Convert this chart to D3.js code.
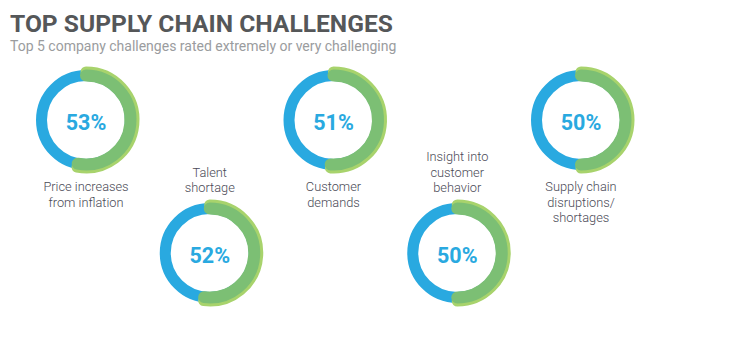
<!DOCTYPE html>
<html lang="en">
<head>
  <meta charset="UTF-8">
  <title>Top Supply Chain Challenges</title>
  <script src="https://d3js.org/d3.v7.min.js"></script>
  <style>
    body {
      margin: 0;
      background: #fff;
      font-family: Roboto, "Noto Sans", sans-serif;
    }
    .title {
      font-size: 24.6px;
      font-weight: 700;
      fill: #555759;
    }
    .subtitle {
      font-size: 14px;
      fill: #9a9c9e;
    }
    .pct {
      font-size: 21.5px;
      font-weight: 700;
      fill: #29a9e0;
    }
    .label {
      font-size: 12.8px;
      font-weight: 300;
      fill: #4a4a56;
    }
  </style>
</head>
<body>
  <svg id="chart" width="738" height="337"></svg>

  <script>
    // values read from the infographic
    const challenges = [
      ["Price increases", "from inflation"],
      ["Talent", "shortage"],
      ["Customer", "demands"],
      ["Insight into", "customer", "behavior"],
      ["Supply chain", "disruptions/", "shortages"]
    ];
    const percents = [53, 52, 51, 50, 50];

    const svg = d3.select("#chart");

    svg.append("text")
      .attr("class", "title")
      .attr("x", 10)
      .attr("y", 32)
      .text("TOP SUPPLY CHAIN CHALLENGES");

    svg.append("text")
      .attr("class", "subtitle")
      .attr("x", 10)
      .attr("y", 51)
      .text("Top 5 company challenges rated extremely or very challenging");

    // layout: donuts alternate between a top and a bottom row
    const x = d3.scalePoint()
      .domain(d3.range(percents.length))
      .range([86, 581]);
    const rowY = d3.scaleOrdinal().domain([0, 1]).range([120, 253]);

    const angle = d3.scaleLinear().domain([0, 100]).range([0, 2 * Math.PI]);

    const r = 44.5, ring = 11;
    const lineH = 15.5;

    // arc drawn as a stroked path so the ends get round caps
    function arcPath(radius, a0, a1) {
      const p = d3.path();
      p.arc(0, 0, radius, a0 - Math.PI / 2, a1 - Math.PI / 2);
      return p.toString();
    }

    const g = svg.selectAll(".donut")
      .data(percents)
      .enter()
      .append("g")
      .attr("class", "donut")
      .attr("transform", (d, i) => `translate(${x(i)},${rowY(i % 2)})`);

    g.append("circle")
      .attr("r", r)
      .attr("fill", "none")
      .attr("stroke", "#29a9e0")
      .attr("stroke-width", ring);

    g.append("path")
      .attr("d", d => arcPath(r + 3.5, 0, angle(d)))
      .attr("fill", "none")
      .attr("stroke", "#a8d36c")
      .attr("stroke-width", ring)
      .attr("stroke-linecap", "round");

    g.append("path")
      .attr("d", d => arcPath(r, 0, angle(d)))
      .attr("fill", "none")
      .attr("stroke", "#7cbf74")
      .attr("stroke-width", ring + 1)
      .attr("stroke-linecap", "round");

    g.append("text")
      .attr("class", "pct")
      .attr("text-anchor", "middle")
      .attr("y", 10)
      .text(d => d + "%");

    // labels: below the donut on the top row, above it on the bottom row
    g.each(function(d, i) {
      const lines = challenges[i];
      const top = i % 2 === 0;
      const y0 = top ? 67 : -65 - (lines.length - 1) * lineH;
      d3.select(this).selectAll(".label")
        .data(lines)
        .enter()
        .append("text")
        .attr("class", "label")
        .attr("text-anchor", "middle")
        .attr("dy", "0.35em")
        .attr("y", (t, j) => y0 + j * lineH)
        .text(t => t);
    });
  </script>
</body>
</html>
